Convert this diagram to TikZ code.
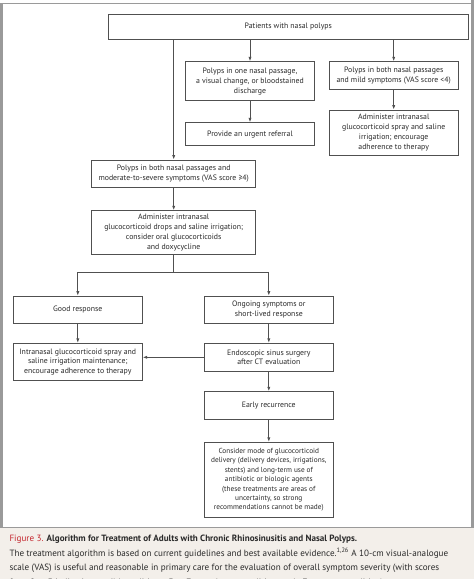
\documentclass[tikz,border=0pt]{standalone}
\usepackage{fontspec}
\setmainfont{PT Sans}
\usetikzlibrary{arrows.meta}
\definecolor{boxline}{HTML}{505050}
\definecolor{frame}{HTML}{9A9A9A}
\definecolor{capbg}{HTML}{F3EFEA}
\definecolor{figred}{HTML}{C4262E}
\definecolor{txt}{HTML}{2A2A2A}
\begin{document}
\begin{tikzpicture}[x=1pt,y=-1pt,
  stepbox/.style={draw=boxline,line width=0.8pt,align=center,inner sep=1pt,
    font=\fontsize{7.8}{9.9}\selectfont,text=txt},
  conn/.style={draw=boxline,line width=0.8pt,-{Latex[length=4.5pt,width=3.2pt]}},
  plain/.style={draw=boxline,line width=0.8pt},
  captxt/.style={anchor=base west,inner sep=0pt,font=\fontsize{9.1}{11}\selectfont,text=txt}]
\useasboundingbox (0,0) rectangle (474,579);
% frame
\fill[white] (0,0) rectangle (474,579);
\fill[capbg] (0,527.3) rectangle (474,579);
\fill[frame] (0,3) rectangle (2.5,527.3);
\fill[frame] (471.3,0) rectangle (474,527.3);
\draw[frame,line width=1.4pt] (0,3.5) -- (471.3,3.5);
\draw[frame,line width=1pt] (0,527.3) -- (474,527.3);
% boxes
\node[stepbox,minimum width=359.3pt,minimum height=25.3pt] (A) at (288.3,26.7) {Patients with nasal polyps};
\node[stepbox,minimum width=128.6pt,minimum height=39pt] (B) at (250,81.2) {Polyps in one nasal passage,\\a visual change, or bloodstained\\discharge};
\node[stepbox,minimum width=128.6pt,minimum height=23pt] (C) at (250,134.2) {Provide an urgent referral};
\node[stepbox,minimum width=128.7pt,minimum height=27.6pt] (D) at (393.7,75.5) {Polyps in both nasal passages\\and mild symptoms (VAS score <4)};
\node[stepbox,minimum width=128.7pt,minimum height=45pt] (E) at (393.7,132.5) {Administer intranasal\\glucocorticoid spray and saline\\irrigation; encourage\\adherence to therapy};
\node[stepbox,minimum width=164pt,minimum height=27.7pt] (F) at (173.7,173.8) {Polyps in both nasal passages and\\moderate-to-severe symptoms (VAS score ≥4)};
\node[stepbox,minimum width=164pt,minimum height=43.3pt] (G) at (173.7,232.3) {Administer intranasal\\glucocorticoid drops and saline irrigation;\\consider oral glucocorticoids\\and doxycycline};
\node[stepbox,minimum width=129pt,minimum height=27.3pt] (H) at (77.8,309.7) {Good response};
\node[stepbox,minimum width=129pt,minimum height=27.3pt] (I) at (268.8,309.7) {Ongoing symptoms or\\short-lived response};
\node[stepbox,minimum width=129pt,minimum height=37.4pt] (J) at (77.8,362) {Intranasal glucocorticoid spray and\\saline irrigation maintenance;\\encourage adherence to therapy};
\node[stepbox,minimum width=129pt,minimum height=28pt] (K) at (268.8,357.3) {Endoscopic sinus surgery\\after CT evaluation};
\node[stepbox,minimum width=129pt,minimum height=27.3pt] (L) at (268.8,405.3) {Early recurrence};
\node[stepbox,minimum width=129pt,minimum height=75pt,font=\fontsize{7.3}{9.4}\selectfont] (M) at (268.8,479.8) {Consider mode of glucocorticoid\\delivery (delivery devices, irrigations,\\stents) and long-term use of\\antibiotic or biologic agents\\(these treatments are areas of\\uncertainty, so strong\\recommendations cannot be made)};
% connectors
\draw[conn] (F.north |- A.south) -- (F.north);
\draw[conn] (B.north |- A.south) -- (B.north);
\draw[conn] (D.north |- A.south) -- (D.north);
\draw[conn] (B) -- (C);
\draw[conn] (D) -- (E);
\draw[conn] (F) -- (G);
\coordinate (split) at ([yshift=-17.7pt]G.south);
\draw[plain] (G.south) -- (split);
\draw[plain] (split -| H.north) -- (split -| I.north);
\draw[conn] (split -| H.north) -- (H.north);
\draw[conn] (split -| I.north) -- (I.north);
\draw[conn] (H) -- (J);
\draw[conn] (I) -- (K);
\draw[conn] (K.west) -- (K.west -| J.east);
\draw[conn] (K) -- (L);
\draw[conn] (L) -- (M);
% caption
\node[captxt] (cap1) at (9.3,541.7) {\textcolor{figred}{Figure 3.} \textbf{Algorithm for Treatment of Adults with Chronic Rhinosinusitis and Nasal Polyps.}};
\node[captxt] (cap2) at (9.3,556.4) {The treatment algorithm is based on current guidelines and best available evidence.\textsuperscript{1,26} A 10-cm visual-analogue};
\node[captxt] (cap3) at (9.3,570.8) {scale (VAS) is useful and reasonable in primary care for the evaluation of overall symptom severity (with scores};
\node[captxt] (cap4) at (9.3,585.2) {from 0 to 3 indicating a mild condition, >3 to 7 a moderate condition, and >7 a severe condition).};
\end{tikzpicture}
\end{document}
